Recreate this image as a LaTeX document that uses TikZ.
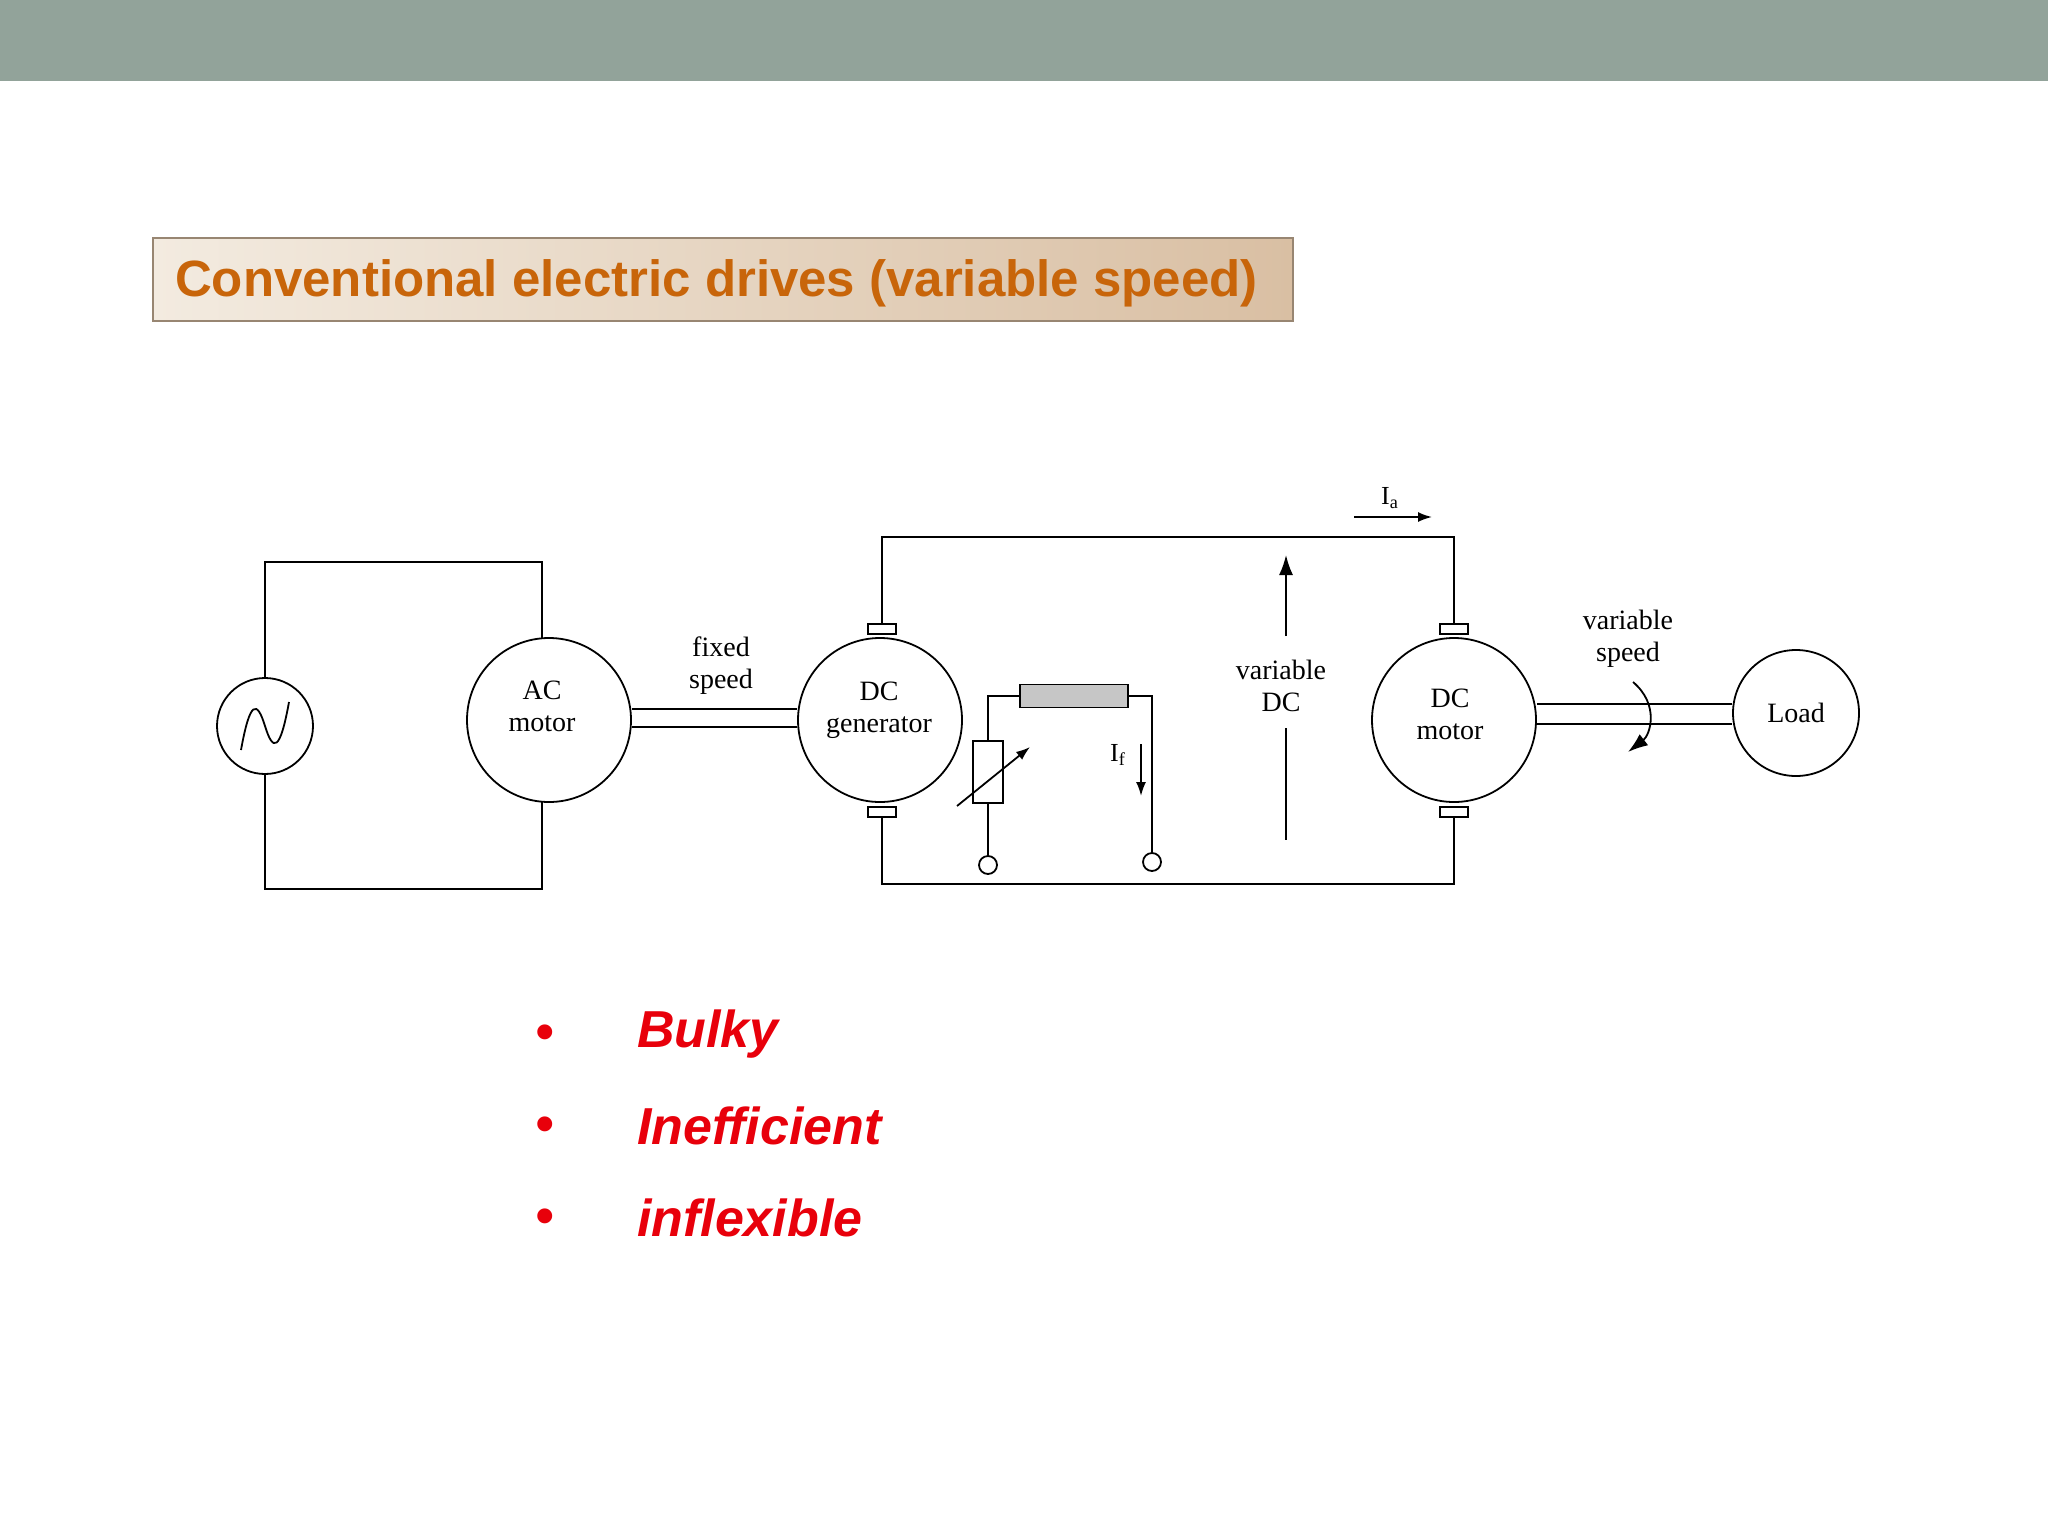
\documentclass[tikz,border=0pt]{standalone}
\usepackage{fontspec}
\setmainfont{Liberation Serif}
\newfontfamily\arial{Liberation Sans}
\usetikzlibrary{arrows.meta}
\definecolor{barc}{HTML}{92A39A}
\definecolor{titc}{HTML}{C8650A}
\definecolor{redc}{HTML}{E8000B}
\definecolor{boxl}{HTML}{F3EBE0}
\definecolor{boxr}{HTML}{D9BFA3}
\begin{document}
\begin{tikzpicture}[x=0.5pt,y=-0.5pt,
  w/.style={line width=1.1pt},
  mach/.style={circle,draw,line width=0.9pt,minimum size=82pt,inner sep=0pt,align=center,font=\fontsize{14}{16}\selectfont},
  brush/.style={draw,line width=0.9pt,fill=white,minimum width=14pt,minimum height=5pt,inner sep=0pt},
  lbl/.style={align=center,font=\fontsize{14}{16}\selectfont},
  arr/.style={-{Latex[length=7pt,width=5pt]},line width=0.9pt},
  bul/.style={anchor=west,font=\arial\bfseries\itshape\fontsize{26}{30}\selectfont,text=redc}]
\useasboundingbox (0,0) rectangle (2048,1536);
\fill[barc] (0,0) rectangle (2048,81);
% title
\shade[left color=boxl,right color=boxr] (153,238) rectangle (1293,321);
\draw[boxr!70!black,line width=0.8pt] (153,238) rectangle (1293,321);
\node[anchor=west,text=titc,font=\arial\bfseries\fontsize{25.5}{28}\selectfont] (title) at (168,283) {Conventional electric drives (variable speed)};
% AC source
\node[circle,draw,line width=0.9pt,minimum size=48pt] (src) at (265,726) {};
\draw[line width=0.9pt] (241,750) .. controls (250,700) and (257,700) .. (265,726) .. controls (273,752) and (280,752) .. (289,702);
\node[mach] (acm) at (549,720) {};
\node[lbl] (acl) at (542,706) {AC\\motor};
\draw[w] (src.north) |- (542,562) -- (542,639);
\draw[w] (src.south) |- (542,889) -- (542,801);
% shaft 1
\node[mach] (gen) at (880,720) {};
\node[lbl] (genl) at (879,710) {DC\\generator};
\draw[w] (acm.east |- 0,709) -- (gen.west |- 0,709);
\draw[w] (acm.east |- 0,727) -- (gen.west |- 0,727);
\node[lbl] (fs) at (721,666) {fixed\\speed};
% DC motor
\node[mach] (dcm) at (1454,720) {};
\node[lbl] (dcml) at (1450,714) {DC\\motor};
\node[brush] (gb1) at (882,629) {};
\node[brush] (gb2) at (882,812) {};
\node[brush] (mb1) at (1454,629) {};
\node[brush] (mb2) at (1454,812) {};
\draw[w] (gb1.north) |- (1454,537) -- (mb1.north);
\draw[w] (gb2.south) |- (1454,884) -- (mb2.south);
% load
\node[circle,draw,line width=0.9pt,minimum size=63pt,inner sep=0pt,font=\fontsize{14}{16}\selectfont] (load) at (1796,713) {Load};
\draw[w] (dcm.east |- 0,704) -- (load.west |- 0,704);
\draw[w] (dcm.east |- 0,724) -- (load.west |- 0,724);
\node[lbl] (vs) at (1628,639) {variable\\speed};
\coordinate (ca) at (1633,682);
\coordinate (cb) at (1628,752);
\draw[arr,-{Latex[length=10pt,width=7pt]}] (ca) .. controls (1660,705) and (1650,735) .. (cb);
% Ia
\coordinate (ia1) at (1354,517);
\coordinate (ia2) at (1432,517);
\draw[arr] (ia1) -- (ia2);
\node[lbl,font=\fontsize{13}{15}\selectfont] (ia) at (1390,498) {I\textsubscript{a}};
% variable DC
\node[lbl] (vdc) at (1281,686) {variable\\DC};
\coordinate (vt) at (1286,555);
\coordinate (vb) at (1286,840);
\draw[arr,-{Latex[length=10pt,width=7pt]}] (1286,636) -- (vt);
\draw[line width=0.9pt] (1286,728) -- (vb);
% field circuit
\node[draw,line width=0.9pt,circle,minimum size=9pt,inner sep=0pt] (t1) at (988,865) {};
\node[draw,line width=0.9pt,circle,minimum size=9pt,inner sep=0pt] (t2) at (1152,862) {};
\node[draw,line width=0.9pt,fill=gray!45,minimum width=54pt,minimum height=11.5pt,inner sep=0pt] (fw) at (1074,696) {};
\node[draw,line width=0.9pt,fill=white,minimum width=15pt,minimum height=31pt,inner sep=0pt] (rh) at (988,772) {};
\draw[w] (t1.north) -- (rh.south);
\draw[w] (rh.north) |- (fw.west);
\draw[w] (fw.east) -| (t2.north);
\coordinate (ra) at (957,806);
\coordinate (rb) at (1030,747);
\draw[arr] (ra) -- (rb);
\coordinate (if1) at (1141,744);
\coordinate (if2) at (1141,796);
\draw[arr] (if1) -- (if2);
\node[lbl,font=\fontsize{13}{15}\selectfont] (if) at (1118,755) {I\textsubscript{f}};
% bullets
\node[bul] (b1) at (528,1037) {\textbullet};
\node[bul] (b2) at (528,1129) {\textbullet};
\node[bul] (b3) at (528,1221) {\textbullet};
\node[bul] (t1b) at (630,1034) {Bulky};
\node[bul] (t2b) at (630,1126) {Inefficient};
\node[bul] (t3b) at (630,1218) {inflexible};
\end{tikzpicture}
\end{document}
